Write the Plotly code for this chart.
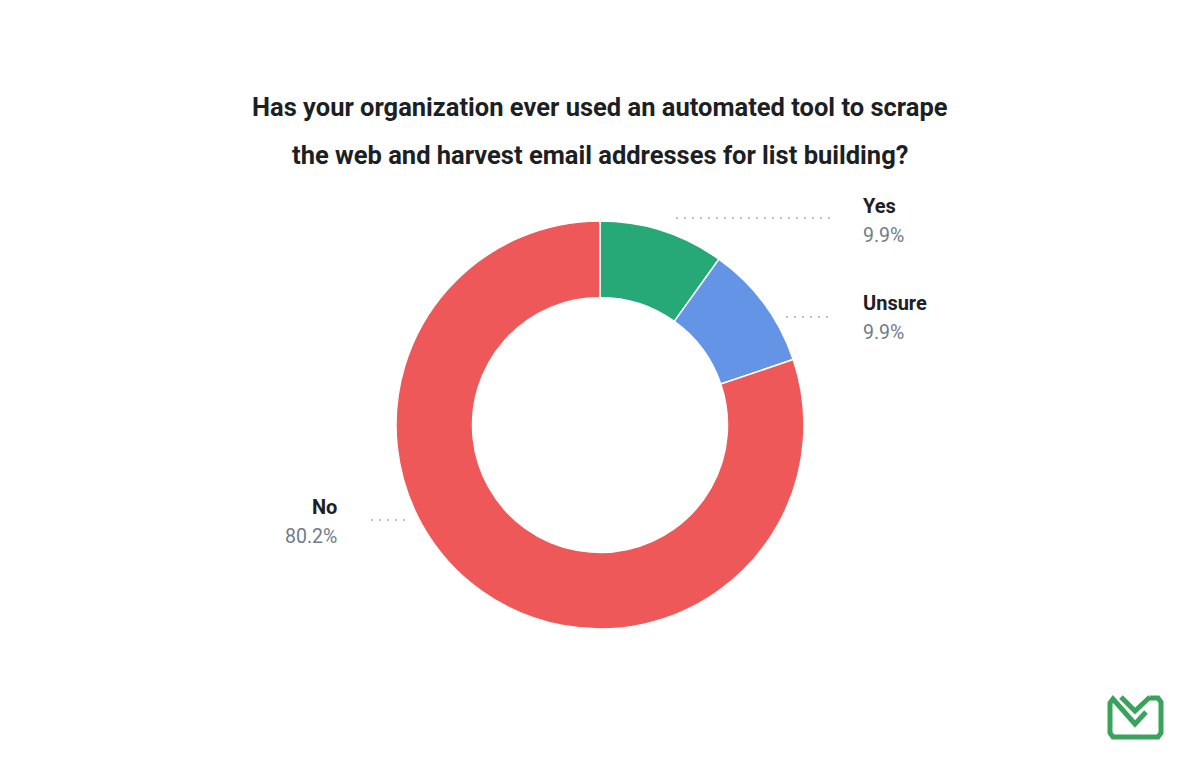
import plotly.graph_objects as go

# ---- data ----
labels = ["Yes", "Unsure", "No"]
values = [9.9, 9.9, 80.2]
pct_text = ["9.9%", "9.9%", "80.2%"]
colors = ["#26A977", "#6394E6", "#EF5858"]
title_lines = [
    "Has your organization ever used an automated tool to scrape",
    "the web and harvest email addresses for list building?",
]

W, H = 1200, 782


def px(x):
    return x / W


def py(y):
    return 1 - y / H


fig = go.Figure()
fig.add_trace(go.Pie(
    labels=labels,
    values=values,
    hole=0.625,
    sort=False,
    direction="clockwise",
    rotation=0,
    marker=dict(colors=colors, line=dict(color="white", width=1.5)),
    textinfo="none",
    hoverinfo="label+percent",
    showlegend=False,
    domain=dict(x=[px(396), px(804)], y=[py(629), py(221)]),
))

annotations = []
# title
for i, line in enumerate(title_lines):
    annotations.append(dict(
        text="<b>" + line + "</b>", x=0.5, y=py(107 + 48 * i), xref="paper", yref="paper",
        xanchor="center", yanchor="middle", showarrow=False,
        font=dict(family="Roboto", size=25.5, color="#1C1F24"),
    ))

# labels: (name index, x, y of name, align)
label_pos = [(0, 861, 206, "left"), (1, 861, 303, "left"), (2, 339, 507, "right")]
for idx, x, y, al in label_pos:
    anchor = "left" if al == "left" else "right"
    annotations.append(dict(
        text="<b>" + labels[idx] + "</b>", x=px(x), y=py(y), xref="paper", yref="paper",
        xanchor=anchor, yanchor="middle", showarrow=False, align=al,
        font=dict(family="Roboto", size=20, color="#1D2127"),
    ))
    annotations.append(dict(
        text=pct_text[idx], x=px(x), y=py(y + 29), xref="paper", yref="paper",
        xanchor=anchor, yanchor="middle", showarrow=False, align=al,
        font=dict(family="Roboto", size=19.5, color="#717C88"),
    ))

shapes = []
# dotted leader lines
for x0, x1, y in [(676, 830, 218), (786, 830, 317), (371, 408, 520)]:
    shapes.append(dict(
        type="line", xref="paper", yref="paper",
        x0=px(x0), x1=px(x1), y0=py(y), y1=py(y),
        line=dict(color="#BBC0C5", width=2, dash="2px,6px"),
    ))


# logo (envelope with check)
def path(pts):
    return "M " + " L ".join(f"{px(a)},{py(b)}" for a, b in pts)


logo_green = "#3AA35B"
shapes.append(dict(type="path", xref="paper", yref="paper",
                   path=path([(1110, 712), (1110, 733), (1113, 737), (1158, 737), (1161, 733),
                              (1161, 702), (1158, 698), (1150, 698)]),
                   line=dict(color=logo_green, width=5)))
shapes.append(dict(type="path", xref="paper", yref="paper",
                   path=path([(1110, 712), (1110, 703), (1113, 699), (1135, 724), (1146, 712)]),
                   line=dict(color=logo_green, width=5)))
shapes.append(dict(type="path", xref="paper", yref="paper",
                   path=path([(1121, 697), (1135, 711), (1150, 697)]),
                   line=dict(color=logo_green, width=5)))

fig.update_layout(
    width=W, height=H,
    margin=dict(l=0, r=0, t=0, b=0),
    paper_bgcolor="white",
    plot_bgcolor="white",
    annotations=annotations,
    shapes=shapes,
    font=dict(family="Roboto"),
)

fig.write_html("out.html", config={"displayModeBar": False},
               post_script="document.body.style.margin='0';document.body.style.overflow='hidden';")
